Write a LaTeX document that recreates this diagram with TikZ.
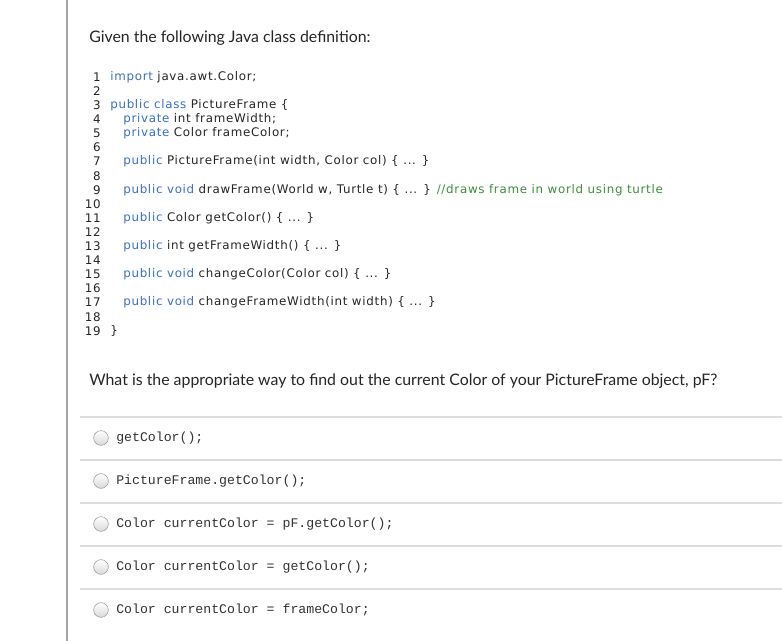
\documentclass[tikz,border=0pt]{standalone}
\usepackage{fontspec}
\setmainfont{Lato}
\newfontfamily\codefont[LetterSpace=6]{DejaVu Sans}
\newfontfamily\optfont{Liberation Mono}
\definecolor{kw}{HTML}{3A6FC4}
\definecolor{cm}{HTML}{3E8E3E}
\definecolor{sep}{HTML}{DDDDDD}
\newcommand{\kw}[1]{\textcolor{kw}{#1}}
\begin{document}
\begin{tikzpicture}[x=0.75pt,y=-0.75pt,
  codeln/.style={anchor=west,inner sep=0pt,font=\codefont\fontsize{8.9}{10}\selectfont,text=black!85},
  lnum/.style={anchor=east,inner sep=0pt,font=\codefont\fontsize{8.9}{10}\selectfont,text=black!85},
  head/.style={anchor=west,inner sep=0pt,font=\fontsize{11.9}{14}\selectfont,text=black!85},
  opt/.style={anchor=west,inner sep=0pt,font=\optfont\fontsize{9.9}{12}\selectfont,text=black!80},
  radio/.style={circle,draw=black!40,inner sep=0pt,minimum size=11pt,top color=white,bottom color=black!15},
  sepline/.style={draw=sep,line width=0.8pt}]
\useasboundingbox[fill=white] (0,0) rectangle (782,641);
\draw[black!35,line width=0.8pt] (67,0) -- (67,641);
\node[head] (t1) at (89,38) {Given the following Java class definition:};
\foreach \n [count=\i] in {1,...,19} {
  \node[lnum] (n\i) at (101,{77+(\i-1)*14.1}) {\n};
}
\node[codeln] (c1) at (110,77) {\kw{import} java.awt.Color;};
\node[codeln] (c3) at (110,105.2) {\kw{public class} PictureFrame \{};
\node[codeln] (c4) at (123,119.3) {\kw{private} int frameWidth;};
\node[codeln] (c5) at (123,133.4) {\kw{private} Color frameColor;};
\node[codeln] (c7) at (123,161.6) {\kw{public} PictureFrame(int width, Color col) \{ ... \}};
\node[codeln] (c9) at (123,189.8) {\kw{public void} drawFrame(World w, Turtle t) \{ ... \} \textcolor{cm}{//draws frame in world using turtle}};
\node[codeln] (c11) at (123,218) {\kw{public} Color getColor() \{ ... \}};
\node[codeln] (c13) at (123,246.2) {\kw{public} int getFrameWidth() \{ ... \}};
\node[codeln] (c15) at (123,274.4) {\kw{public void} changeColor(Color col) \{ ... \}};
\node[codeln] (c17) at (123,302.6) {\kw{public void} changeFrameWidth(int width) \{ ... \}};
\node[codeln] (c19) at (110,330.8) {\}};
\node[head] (q) at (89,381) {What is the appropriate way to find out the current Color of your PictureFrame object, pF?};
\foreach \y in {417,460,503,546,589} \draw[sepline] (80,\y) -- (782,\y);
\foreach \name/\y/\txt in {o1/438/getColor();,o2/481/PictureFrame.getColor();,o3/524/Color currentColor = pF.getColor();,o4/567/Color currentColor = getColor();,o5/610/Color currentColor = frameColor;} {
  \node[radio] (r\name) at (101,\y) {};
  \node[opt] (\name) at (116,\y) {\txt};
}
\end{tikzpicture}
\end{document}
